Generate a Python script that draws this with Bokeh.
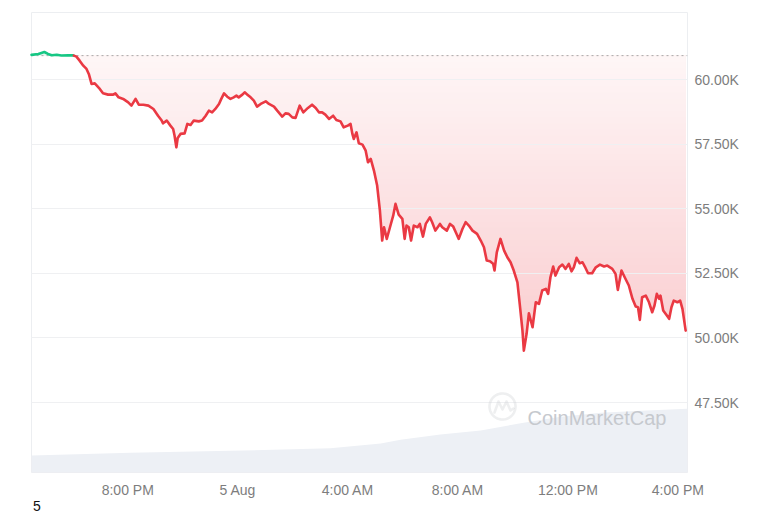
import numpy as np
from bokeh.plotting import figure
from bokeh.layouts import column
from bokeh.models import Range1d, FixedTicker, Span, Label, PolyAnnotation, Div
from bokeh.embed import file_html
from bokeh.resources import INLINE

# ---------------- data ----------------
START_HOUR = -7.5          # chart starts 4 Aug 16:30 (hours relative to 5 Aug 00:00)
END_MINUTE = 1431          # chart ends ~5 Aug 16:21
open_price = 60930

minutes = [
    0, 15, 28, 36, 44, 55, 65, 80, 91, 98,
    105, 113, 120, 125, 131, 138, 149, 156, 167, 178,
    183, 190, 200, 211, 218, 227, 234, 244, 255, 266,
    276, 284, 287, 295, 303, 309, 312, 316, 319, 325,
    334, 340, 347, 354, 365, 372, 380, 387, 394, 401,
    409, 414, 420, 427, 434, 441, 447, 452, 460, 465,
    471, 478, 485, 492, 500, 511, 518, 529, 536, 547,
    554, 561, 569, 576, 585, 593, 603, 612, 620, 627,
    634, 641, 649, 658, 665, 674, 681, 690, 696, 700,
    703, 709, 714, 722, 729, 734, 740, 747, 754, 760,
    765, 769, 775, 782, 789, 794, 801, 809, 814, 818,
    823, 828, 834, 842, 847, 854, 860, 869, 874, 881,
    891, 896, 906, 913, 920, 927, 932, 940, 947, 954,
    962, 972, 980, 987, 993, 1000, 1007, 1010, 1015, 1023,
    1031, 1038, 1045, 1052, 1060, 1065, 1071, 1074, 1080, 1085,
    1093, 1100, 1107, 1114, 1122, 1127, 1132, 1138, 1143, 1151,
    1158, 1165, 1172, 1178, 1183, 1189, 1196, 1202, 1207, 1214,
    1223, 1231, 1240, 1249, 1256, 1267, 1274, 1279, 1287, 1294,
    1303, 1311, 1318, 1323, 1327, 1332, 1340, 1347, 1354, 1359,
    1364, 1369, 1372, 1378, 1386, 1391, 1396, 1401, 1409, 1415,
    1420, 1427,
]

prices = [
    60960, 60995, 61070, 60995, 60945, 60965, 60935, 60945, 60940, 60890,
    60735, 60540, 60415, 60220, 59835, 59855, 59640, 59470, 59420, 59420,
    59470, 59315, 59255, 59120, 58995, 59255, 59030, 59030, 58995, 58865,
    58605, 58415, 58310, 58415, 58220, 58090, 57835, 57380, 57745, 57900,
    57920, 58285, 58245, 58415, 58385, 58415, 58605, 58800, 58735, 58865,
    59060, 59255, 59470, 59340, 59255, 59315, 59380, 59315, 59420, 59510,
    59420, 59315, 59185, 58955, 59060, 59160, 59060, 58955, 58800, 58570,
    58695, 58675, 58540, 58520, 58995, 58735, 58905, 59030, 58905, 58735,
    58735, 58645, 58480, 58605, 58440, 58385, 58155, 58220, 58285, 57900,
    57705, 57960, 57535, 57485, 57250, 56800, 56930, 56480, 55900, 54930,
    53770, 54285, 53835, 54285, 54735, 55190, 54775, 54610, 53835, 54350,
    54285, 53770, 54350, 54285, 54415, 53925, 54415, 54670, 54480, 54155,
    54415, 54285, 54155, 54415, 54310, 54030, 53835, 54220, 54480, 54350,
    54155, 54030, 53770, 53510, 52995, 52970, 52870, 52610, 53315, 53835,
    53380, 53125, 52930, 52610, 52155, 51320, 50285, 49510, 50160, 50955,
    50415, 51380, 51320, 51835, 51900, 51705, 52350, 52765, 52415, 52735,
    52840, 52675, 52865, 52580, 52735, 53100, 52890, 52930, 52765, 52505,
    52505, 52735, 52840, 52765, 52800, 52675, 52480, 51860, 52610, 52350,
    52030, 51515, 51215, 51190, 50700, 51575, 51640, 51380, 50995, 51255,
    51705, 51515, 51640, 51060, 50865, 50740, 51190, 51445, 51380, 51445,
    51125, 50285,
]

vol_minutes = [0, 216, 434, 652, 762, 805, 892, 980, 1067, 1154, 1242, 1329, 1431]
vol_billions = [26, 30, 33, 37, 44, 50, 58, 64, 75, 85, 91, 94, 97]

x_tick_hours = [-4, 0, 4, 8, 12, 16]
x_tick_labels = ["8:00 PM", "5 Aug", "4:00 AM", "8:00 AM", "12:00 PM", "4:00 PM"]
y_ticks = [47500, 50000, 52500, 55000, 57500, 60000]
y_tick_labels = ["47.50K", "50.00K", "52.50K", "55.00K", "57.50K", "60.00K"]
footer_text = "5"

assert len(minutes) == len(prices)

# ---------------- styling ----------------
RED = "#ea3943"
GREEN = "#16c784"
LABEL_GRAY = "#7d7d7d"
FONT = "Liberation Sans"

x = START_HOUR + np.array(minutes, dtype=float) / 60.0
y = np.array(prices, dtype=float)

# split into above / below open runs, with interpolated crossings
segs = []
cur_x, cur_y = [x[0]], [y[0]]
cur_above = y[0] >= open_price
for i in range(1, len(x)):
    ab = y[i] >= open_price
    if ab != cur_above:
        f = (open_price - y[i - 1]) / (y[i] - y[i - 1])
        xc = x[i - 1] + f * (x[i] - x[i - 1])
        cur_x.append(xc)
        cur_y.append(open_price)
        segs.append((cur_above, cur_x, cur_y))
        cur_x, cur_y = [xc], [open_price]
        cur_above = ab
    cur_x.append(x[i])
    cur_y.append(y[i])
segs.append((cur_above, cur_x, cur_y))

fx, fy = [], []
for _, sx, sy in segs:
    if fx and abs(fx[-1] - sx[0]) < 1e-12:
        sx, sy = sx[1:], sy[1:]
    fx.extend(sx)
    fy.extend(sy)
fx = np.array(fx)
fy = np.array(fy)

p = figure(
    width=762, height=500,
    x_range=Range1d(START_HOUR, START_HOUR + END_MINUTE / 60.0),
    y_range=Range1d(44790, 62600),
    y_axis_location="right",
    output_backend="svg", toolbar_location=None,
    min_border_left=31, min_border_right=75, min_border_top=12, min_border_bottom=28,
    background_fill_color="white", border_fill_color="white",
)
p.outline_line_color = "#eceef1"
p.outline_line_width = 1

# volume area
p.extra_y_ranges = {"vol": Range1d(0, 700)}
vx = START_HOUR + np.array(vol_minutes, dtype=float) / 60.0
p.varea(x=vx, y1=np.zeros(len(vx)), y2=np.array(vol_billions, float),
        y_range_name="vol", fill_color="#edf0f5")

# gradient fill between line and open price (red side)
def mix(a, c):
    r = int(round(255 - a * (255 - c[0])))
    g = int(round(255 - a * (255 - c[1])))
    b = int(round(255 - a * (255 - c[2])))
    return "#%02x%02x%02x" % (r, g, b)

lowest = fy.min()
N = 48
levels = np.linspace(open_price, lowest, N + 1)
for j in range(N - 1, -1, -1):
    lo = levels[j + 1]
    mid = 0.5 * (levels[j] + levels[j + 1])
    a = 0.045 + 0.21 * (open_price - mid) / (open_price - 49500)
    y1 = np.minimum(np.maximum(fy, lo), open_price)
    p.varea(x=fx, y1=y1, y2=np.full(len(fx), float(open_price)),
            fill_color=mix(a, (234, 57, 67)))
# faint green fill above the open price
p.varea(x=fx, y1=np.full(len(fx), float(open_price)), y2=np.maximum(fy, open_price),
        fill_color="#e3f7ef")

# open-price dotted line
p.add_layout(Span(location=open_price, dimension="width", line_color="#a8a8a8",
                  line_width=1, line_dash="2 3"))

# price line
for ab, sx, sy in segs:
    r = p.line(sx, sy, line_color=GREEN if ab else RED, line_width=2.6,
               line_join="round", line_cap="round")
    r.level = "overlay"

# axes
xa = p.xaxis[0]
xa.ticker = FixedTicker(ticks=x_tick_hours)
xa.major_label_overrides = dict(zip(x_tick_hours, x_tick_labels))
ya = p.yaxis[0]
ya.ticker = FixedTicker(ticks=y_ticks)
ya.major_label_overrides = dict(zip(y_ticks, y_tick_labels))
for ax in (xa, ya):
    ax.axis_line_color = None
    ax.major_tick_line_color = None
    ax.minor_tick_line_color = None
    ax.major_tick_out = 0
    ax.major_tick_in = 0
    ax.major_label_text_color = LABEL_GRAY
    ax.major_label_text_font = FONT
    ax.major_label_text_font_size = "14px"
xa.major_label_standoff = 9
ya.major_label_standoff = 7

p.xgrid.visible = False
p.ygrid.grid_line_color = "#eff0f2"
p.ygrid.grid_line_width = 1
p.ygrid.level = "guide"

# watermark (screen units, relative to frame)
theta = np.linspace(0, 2 * np.pi, 60)
cx, cy, rad = 471, 66, 13
ring = PolyAnnotation(xs=list(cx + rad * np.cos(theta)), ys=list(cy + rad * np.sin(theta)),
                      xs_units="screen", ys_units="screen",
                      fill_alpha=0, line_color="#c6c9ce", line_width=2.6)
mx = [cx - 8, cx - 4, cx, cx + 4, cx + 8, cx + 11]
my = [cy - 6, cy + 5, cy - 3, cy + 5, cy - 4, cy - 2]
mwave = PolyAnnotation(xs=mx + mx[::-1], ys=my + my[::-1],
                       xs_units="screen", ys_units="screen",
                       fill_alpha=0, line_color="#c6c9ce", line_width=2.6, line_join="round")
p.add_layout(ring)
p.add_layout(mwave)
p.add_layout(Label(x=496, y=55, x_units="screen", y_units="screen", text="CoinMarketCap",
                   text_font=FONT, text_font_size="20px", text_color="#c6c9ce",
                   text_baseline="alphabetic"))

footer = Div(text=footer_text, width=40, height=13, margin=(0, 0, 0, 33),
             styles={"font-size": "14px", "line-height": "13px", "color": "#111111",
                     "font-family": FONT})

layout = column(p, footer, spacing=0)
open("out.html", "w").write(file_html(layout, INLINE))
